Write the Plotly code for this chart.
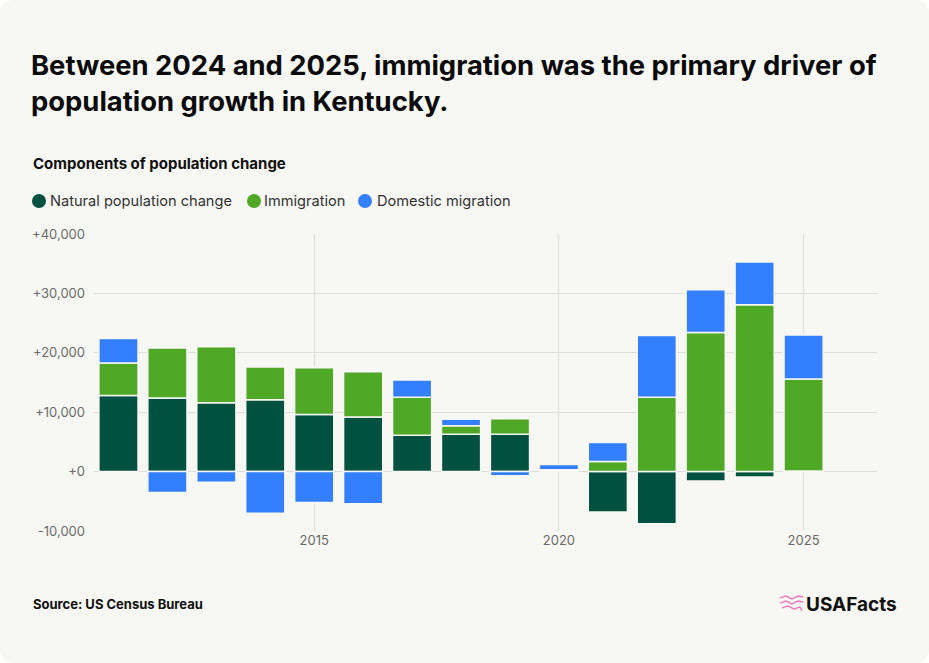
import plotly.graph_objects as go

years = list(range(2011, 2026))
natural = [12800, 12400, 11600, 12100, 9600, 9200, 6100, 6300, 6300, 200, -6800, -8800, -1600, -900, 100]
immigration = [5500, 8400, 9400, 5500, 7900, 7600, 6400, 1400, 2600, 100, 1700, 12500, 23400, 28100, 15500]
domestic = [4100, -3500, -1800, -7000, -5200, -5400, 2900, 1100, -700, 900, 3200, 10400, 7200, 7200, 7400]

series_names = ["Natural population change", "Immigration", "Domestic migration"]
series_colors = ["#00513F", "#4FA826", "#337FFF"]

y_tickvals = [-10000, 0, 10000, 20000, 30000, 40000]
y_ticktext = ["-10,000", "+0", "+10,000", "+20,000", "+30,000", "+40,000"]
x_tickvals = [2015, 2020, 2025]

W, H = 929, 663
ML, MR, MT, MB = 94, 52, 234, 132
PW, PH = W - ML - MR, H - MT - MB
BG = "#F7F7F3"


def px_x(p):
    return (p - ML) / PW


def px_y(p):
    return (H - MB - p) / PH


fig = go.Figure()
for name, vals, col in zip(series_names, [natural, immigration, domestic], series_colors):
    fig.add_trace(go.Bar(
        x=years, y=vals, name=name, width=0.8,
        marker=dict(color=col, line=dict(color=BG, width=1.5)),
        showlegend=False,
    ))

# card background with rounded corners
r = 14
x0, y0, x1, y1 = px_x(0), px_y(0), px_x(W), px_y(H)
rx, ry = r / PW, r / PH
card_path = (
    f"M {x0+rx},{y0} L {x1-rx},{y0} Q {x1},{y0} {x1},{y0-ry} "
    f"L {x1},{y1+ry} Q {x1},{y1} {x1-rx},{y1} "
    f"L {x0+rx},{y1} Q {x0},{y1} {x0},{y1+ry} "
    f"L {x0},{y0-ry} Q {x0},{y0} {x0+rx},{y0} Z"
)
shapes = [dict(type="path", xref="paper", yref="paper", path=card_path,
               fillcolor=BG, line=dict(width=0), layer="below")]


def pt(x, y):
    return f"{px_x(x)},{px_y(y)}"


# USAFacts logo icon (decorative)
icon_lines = [
    [(780, 598), (786, 596), (792, 599), (798, 596), (803, 597)],
    [(780, 603), (786, 601), (792, 604), (798, 601), (803, 602)],
    [(782, 608), (788, 606), (794, 609), (800, 607), (802, 611)],
]
for ln in icon_lines:
    path = "M " + " L ".join(pt(x, y) for x, y in ln)
    shapes.append(dict(type="path", xref="paper", yref="paper", path=path,
                       line=dict(color="#F06BB5", width=1.3)))

annotations = [
    dict(text="<b>Components of population change</b>", xref="paper", yref="paper",
         x=px_x(31), y=px_y(163), xanchor="left", yanchor="middle", showarrow=False,
         font=dict(family="Inter", size=15, color="#111111")),
    dict(text="<b>Source: US Census Bureau</b>", xref="paper", yref="paper",
         x=px_x(31), y=px_y(604), xanchor="left", yanchor="middle", showarrow=False,
         font=dict(family="Inter", size=13, color="#111111")),
    dict(text="<b>USAFacts</b>", xref="paper", yref="paper",
         x=px_x(899), y=px_y(604), xanchor="right", yanchor="middle", showarrow=False,
         font=dict(family="Inter", size=19, color="#111111")),
]

# legend (circles + labels)
legend_circle_x = [39, 254, 365]
legend_text_x = [48, 262, 375]
for name, col, cx, tx in zip(series_names, series_colors, legend_circle_x, legend_text_x):
    shapes.append(dict(type="circle", xref="paper", yref="paper",
                       xsizemode="pixel", ysizemode="pixel",
                       xanchor=px_x(cx), yanchor=px_y(201),
                       x0=-7, x1=7, y0=-7, y1=7,
                       fillcolor=col, line=dict(width=0)))
    annotations.append(dict(text=name, xref="paper", yref="paper",
                            x=px_x(tx), y=px_y(201), xanchor="left", yanchor="middle",
                            showarrow=False,
                            font=dict(family="Inter", size=14.6, color="#333333")))

fig.update_layout(
    width=W, height=H,
    margin=dict(l=ML, r=MR, t=MT, b=MB),
    paper_bgcolor="#FFFFFF",
    plot_bgcolor="rgba(0,0,0,0)",
    barmode="relative",
    title=dict(
        text="<b>Between 2024 and 2025, immigration was the primary driver of<br>population growth in Kentucky.</b>",
        xref="container", yref="container", x=31 / W, y=1 - 75 / H,
        xanchor="left", yanchor="top",
        font=dict(family="Inter", size=27.4, color="#0A0A0A"),
    ),
    xaxis=dict(
        range=[2010.5, 2026.5], tickvals=x_tickvals, showgrid=True,
        gridcolor="#DCDCD8", gridwidth=1, zeroline=False, showline=False,
        ticks="", tickfont=dict(family="Inter", size=13, color="#6B6B6B"),
    ),
    yaxis=dict(
        range=[-10000, 40000], tickvals=y_tickvals, ticktext=y_ticktext,
        showgrid=True, gridcolor="#DCDCD8", gridwidth=1,
        zeroline=True, zerolinecolor="#DCDCD8", zerolinewidth=1,
        showline=False, ticks="", ticklabelstandoff=8,
        tickfont=dict(family="Inter", size=13, color="#6B6B6B"),
    ),
    shapes=shapes,
    annotations=annotations,
    showlegend=False,
)

fig.write_html("out.html")
